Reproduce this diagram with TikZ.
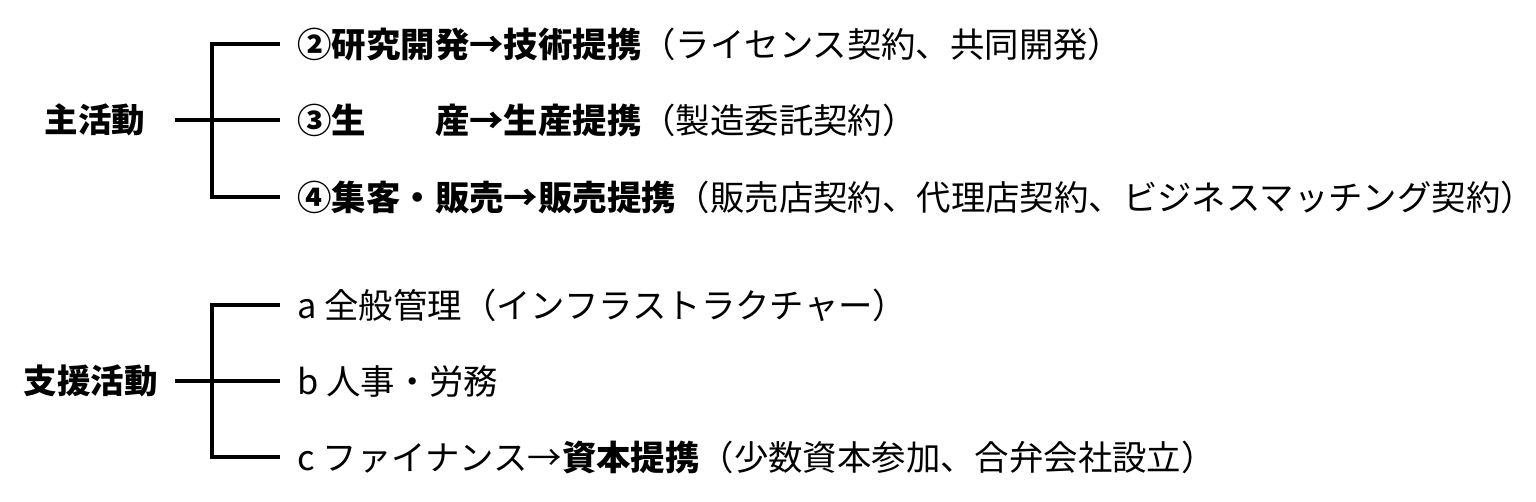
\documentclass[tikz,border=0pt]{standalone}
\usepackage{fontspec}
\newfontfamily\jpfont{Noto Sans CJK JP}

\begin{document}
\begin{tikzpicture}[x=0.5pt, y=-0.5pt,
    every node/.style={font=\jpfont\fontsize{17.2pt}{20pt}\selectfont},
    grp/.style={inner sep=0pt, font=\jpfont\bfseries\fontsize{16.75pt}{20pt}\selectfont},
    item/.style={anchor=west, inner xsep=8.5pt, inner ysep=0pt, text height=14.4pt, text depth=1.2pt},
    tree/.style={line width=1.6pt}]
  \useasboundingbox (0,0) rectangle (1536,502);
  \node[grp] (main) at (95,120) {主活動};
  \node[grp] (supp) at (91,381) {支援活動};
  \coordinate (mstub) at (175,120);
  \coordinate (jm) at (212,120);
  \coordinate (sstub) at (175,381);
  \coordinate (js) at (212,381);
  \node[item] (m1) at (280,44) {{\bfseries ②研究開発→技術提携}（ライセンス契約、共同開発）};
  \node[item] (m2) at (280,120) {{\bfseries ③生　　産→生産提携}（製造委託契約）};
  \node[item] (m3) at (280,197) {{\bfseries ④集客・販売→販売提携}（販売店契約、代理店契約、ビジネスマッチング契約）};
  \node[item] (s1) at (280,305) {a 全般管理（インフラストラクチャー）};
  \node[item] (s2) at (280,381) {b 人事・労務};
  \node[item] (s3) at (280,457) {c ファイナンス→{\bfseries 資本提携}（少数資本参加、合弁会社設立）};
  \draw[tree] (m1.west) -| (jm) |- (m3.west);
  \draw[tree] (mstub) -- (m2.west);
  \draw[tree] (s1.west) -| (js) |- (s3.west);
  \draw[tree] (sstub) -- (s2.west);
\end{tikzpicture}
\end{document}
